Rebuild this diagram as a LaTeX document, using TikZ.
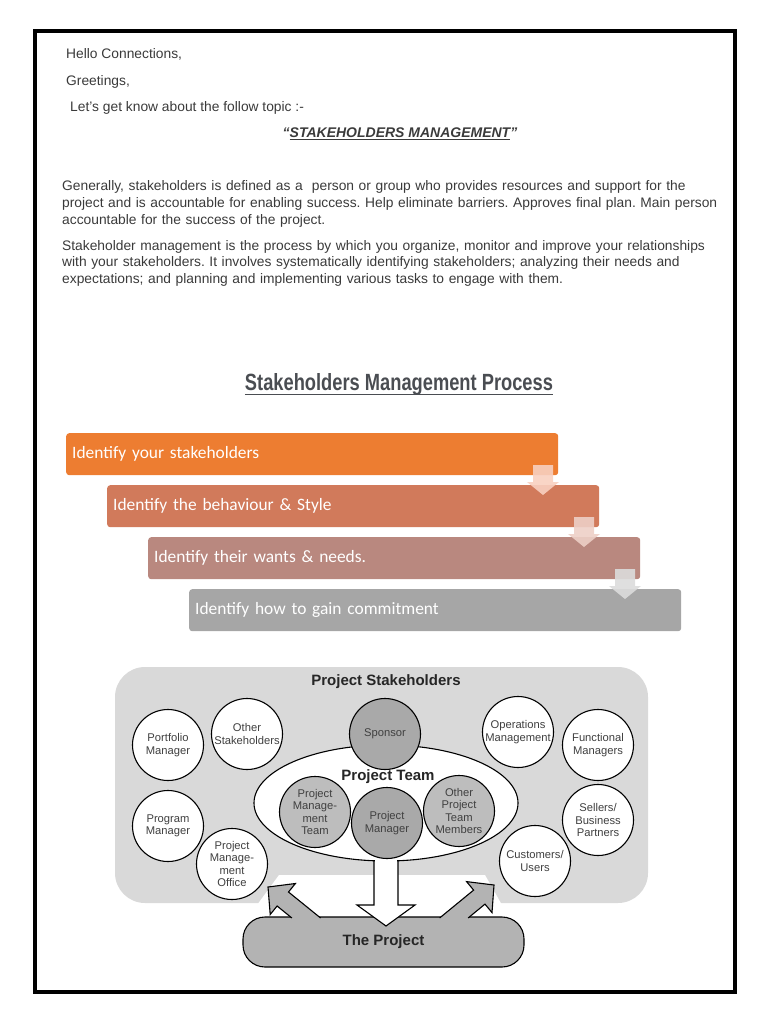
\documentclass[tikz,border=0pt]{standalone}
\usepackage{fontspec}
\setmainfont{Liberation Sans}
\newfontfamily\calibrifont{Carlito}
\usetikzlibrary{shapes.geometric,positioning,calc}
\frenchspacing

\definecolor{txtgray}{HTML}{3A3A3A}
\definecolor{titlegray}{HTML}{4A4D52}
\definecolor{stageA}{HTML}{ED7D31}
\definecolor{stageB}{HTML}{D17A5B}
\definecolor{stageC}{HTML}{B9887F}
\definecolor{stageD}{HTML}{A6A6A6}
\definecolor{dropA}{HTML}{F8D0C0}
\definecolor{dropB}{HTML}{EDCFC6}
\definecolor{dropC}{HTML}{DCDCDC}
\definecolor{panel}{HTML}{D9D9D9}
\definecolor{coreA}{HTML}{A9A9A9}
\definecolor{coreB}{HTML}{BDBDBD}
\definecolor{projfill}{HTML}{B3B3B3}

\begin{document}
\begin{tikzpicture}[x=1pt, y=-1pt,
    body/.style={anchor=base west, inner sep=0pt, font=\fontsize{13.8}{16.6}\selectfont, text=txtgray},
    para/.style={body, text width=700pt, align=left},
    stagebox/.style={anchor=north west, fill=#1, rounded corners=3pt, minimum height=42pt, text width=480pt, inner xsep=6pt, align=left, text=white, font=\calibrifont\fontsize{17.4}{20}\selectfont},
    stake/.style={circle, draw=black, line width=1.1pt, fill=#1, minimum size=71pt, inner sep=0pt, align=center, font=\fontsize{11.2}{12.5}\selectfont, text=black!75},
    stake/.default=white,
    hdr/.style={font=\bfseries\fontsize{15}{17}\selectfont, text=black!85},
    blk/.style={draw=black, line width=1.1pt, line join=miter}
]
\useasboundingbox (0,0) rectangle (768,1024);

% --- page frame ---
\draw[line width=4pt] (34.5,31) rectangle (734.5,992);

% --- letter text ---
\node[body] (hello) at (66,59) {Hello Connections,};
\node[body] (greet) at (66,86) {Greetings,};
\node[body] (intro) at (70,112) {Let’s get know about the follow topic :-};
\node[body, anchor=base, font=\bfseries\itshape\fontsize{14}{16}\selectfont] (topic) at (400,138) {“\underline{STAKEHOLDERS MANAGEMENT}”};
\node[para] (def) at (62,191) {Generally, stakeholders is defined as a \ person or group who provides resources and support for the\\project and is accountable for enabling success. Help eliminate barriers. Approves final plan. Main person\\accountable for the success of the project.};
\node[para] (mgmt) at (62,250) {Stakeholder management is the process by which you organize, monitor and improve your relationships\\with your stakeholders. It involves systematically identifying stakeholders; analyzing their needs and\\expectations; and planning and implementing various tasks to engage with them.};

% --- process title ---
\node[anchor=base, inner sep=0pt, text=titlegray] (proc) at (399,390) {\resizebox{308pt}{17pt}{\bfseries Stakeholders Management Process}};
\draw[titlegray, line width=1.8pt] ([yshift=-4.5pt]proc.base west) -- ([yshift=-4.5pt]proc.base east);

% --- process steps ---
\node[stagebox=stageA] (s1) at (66,433) {Identify your stakeholders};
\node[stagebox=stageB] (s2) at (107,485) {Identify the behaviour \& Style};
\node[stagebox=stageC] (s3) at (148,537) {Identify their wants \& needs.};
\node[stagebox=stageD] (s4) at (189,589) {Identify how to gain commitment};
\foreach \cx/\cy/\col in {543/465/dropA, 584/517/dropB, 625/569/dropC}
  \fill[\col, opacity=.9] (\cx-10,\cy) -- (\cx+10,\cy) -- (\cx+10,\cy+17) -- (\cx+16,\cy+17)
     -- (\cx,\cy+30) -- (\cx-16,\cy+17) -- (\cx-10,\cy+17) -- cycle;

% --- stakeholder panel ---
\fill[panel, rounded corners=30pt] (115,667) rectangle (648,903);
\fill[white] (279,875) -- (485,875) -- (502,905) -- (257,905) -- cycle;
\node[hdr] (pstake) at (386,682) {Project Stakeholders};

\node[stake] (portfolio) at (168,745) {Portfolio\\Manager};
\node[stake] (otherst) at (247,734) {Other\\Stakeholders};
\node[stake] (program) at (168,826) {Program\\Manager};
\node[stake] (pmo) at (232,864) {Project\\Manage-\\ment\\Office};
\node[stake] (ops) at (518,732) {Operations\\Management};
\node[stake] (func) at (598,745) {Functional\\Managers};
\node[stake] (sellers) at (598,820) {Sellers/\\Business\\Partners};
\node[stake] (cust) at (535,861) {Customers/\\Users};

% --- the project and its arrows ---
\node[draw=black, line width=1.1pt, fill=projfill, rounded corners=22pt, minimum width=281pt, minimum height=50pt, font=\bfseries\fontsize{15}{17}\selectfont, text=black!85] (proj) at (383.5,942) {The Project};
\filldraw[blk, fill=projfill] (291.9,918) -- (277.1,906.0) -- (270.2,914.5) -- (268,887) -- (295.4,883.5) -- (288.5,892.0) -- (320.6,918);
\filldraw[blk, fill=projfill] (468.1,918) -- (485.0,904.1) -- (492.0,912.6) -- (494,885) -- (466.6,881.6) -- (473.6,890.1) -- (439.6,918);
\filldraw[blk, fill=white] (374,845) -- (374,905) -- (357,905) -- (386,926) -- (415,905) -- (398,905) -- (398,845) -- cycle;

% --- project team ---
\node[ellipse, draw=black, line width=1.1pt, fill=white, minimum width=264pt, minimum height=116pt] (team) at (386,803) {};
\fill[white] (374.7,845) rectangle (397.3,867);
\node[hdr] (tlabel) at (388,777) {Project Team};
\node[stake=coreB] (pmteam) at (315,812) {Project\\Manage-\\ment\\Team};
\node[stake=coreB] (members) at (459,811) {Other\\Project\\Team\\Members};
\node[stake=coreA] (pm) at (387,823) {Project\\Manager};
\node[stake=coreA] (sponsor) at (385,734) {Sponsor};
\end{tikzpicture}
\end{document}
